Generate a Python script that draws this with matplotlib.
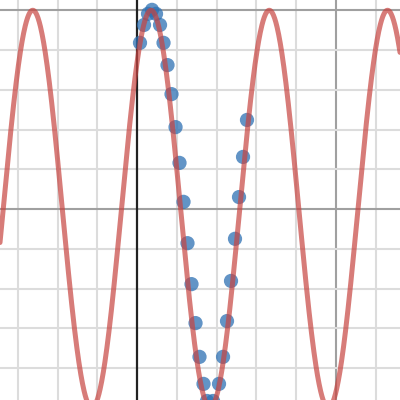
import numpy as np
import matplotlib
matplotlib.use("Agg")
import matplotlib.pyplot as plt

# curve: y = offset + amplitude * cos(2*pi*(x - peak_x) / period)
amplitude = 5.0
offset = 5.0
period = 2.975
peak_x = 0.352

# sampled points (grid units)
point_x = [0.075, 0.176, 0.277, 0.377, 0.478, 0.579, 0.667, 0.767, 0.868,
           0.969, 1.069, 1.170, 1.270, 1.371, 1.472, 1.572, 1.673, 1.761,
           1.912, 2.063, 2.164, 2.264, 2.365, 2.465, 2.566, 2.667, 2.767]
point_y = [9.18, 9.63, 9.91, 10.01, 9.91, 9.63, 9.18, 8.62, 7.89,
           7.06, 6.16, 5.18, 4.14, 3.11, 2.13, 1.28, 0.60, 0.17,
           0.17, 0.60, 1.28, 2.18, 3.19, 4.25, 5.30, 6.31, 7.24]

x_range = (-3.447, 6.616)
y_range = (0.195, 10.258)

fig = plt.figure(figsize=(4, 4), dpi=100)
ax = fig.add_axes([0, 0, 1, 1])
ax.set_xlim(*x_range)
ax.set_ylim(*y_range)

# grid: minor every unit, major every 5
for gx in range(-3, 7):
    if gx == 0:
        continue
    major = gx % 5 == 0
    ax.axvline(gx, color="#a0a0a0" if major else "#dcdcdc", lw=1.5, zorder=0)
for gy in range(1, 11):
    major = gy % 5 == 0
    ax.axhline(gy, color="#a0a0a0" if major else "#dcdcdc", lw=1.5, zorder=0)
ax.axvline(0, color="#222222", lw=1.6, zorder=1)

ax.scatter(point_x, point_y, s=105, color="#2d70b3", alpha=0.75,
           edgecolors="none", zorder=2)

xs = np.linspace(x_range[0], x_range[1], 1000)
ys = offset + amplitude * np.cos(2 * np.pi * (xs - peak_x) / period)
ax.plot(xs, ys, color="#c74440", alpha=0.7, lw=3.6, zorder=3,
        solid_capstyle="round")

for s in ax.spines.values():
    s.set_visible(False)
ax.set_xticks([])
ax.set_yticks([])

fig.savefig("out.png", dpi=100)
